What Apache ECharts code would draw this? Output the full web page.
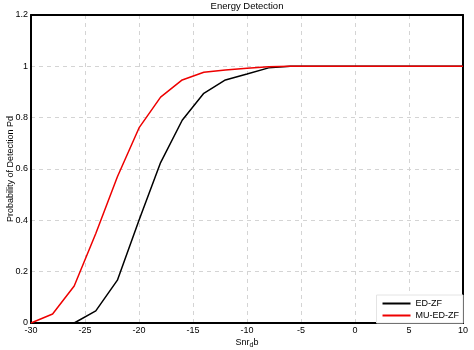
<!DOCTYPE html>
<html><head><meta charset="utf-8">
<script src="https://cdn.jsdelivr.net/npm/echarts@6/dist/echarts.min.js"></script>
<style>html,body{margin:0;padding:0;background:#fff}#c{width:474px;height:350px}</style>
</head><body><div id="c"></div>
<script>
const snr = [-30,-28,-26,-24,-22,-20,-18,-16,-14,-12,-10,-8,-6,-4,-2,0,2,4,6,8,10];
const edzf = [0,0,0,0.047,0.167,0.40,0.625,0.79,0.895,0.947,0.970,0.994,1,1,1,1,1,1,1,1,1];
const muedzf = [0,0.035,0.144,0.349,0.57,0.76,0.88,0.947,0.977,0.986,0.993,0.998,1,1,1,1,1,1,1,1,1];
const seriesNames = ['ED-ZF','MU-ED-ZF'];
const font = 'Liberation Sans, Arial, sans-serif';
const frameAxis = {axisLine:{onZero:false,lineStyle:{color:'#000',width:2}},axisTick:{show:false},axisLabel:{show:false},splitLine:{show:false}};
const chart = echarts.init(document.getElementById('c'));
chart.setOption({
  animation:false,
  backgroundColor:'#fff',
  title:{text:'Energy Detection',left:247,top:1,padding:0,textAlign:'center',textStyle:{fontFamily:font,fontSize:9.5,fontWeight:'normal',color:'#000'}},
  grid:{left:31,right:11,top:15,bottom:27,containLabel:false,outerBoundsMode:'none'},
  xAxis:[{type:'value',min:-30,max:10,interval:5,
    name:'{a|Snr}{s|d}{a|b}',nameLocation:'middle',nameGap:13,nameMoveOverlap:false,
    nameTextStyle:{rich:{a:{fontFamily:font,fontSize:9,color:'#000'},s:{fontFamily:font,fontSize:7,color:'#000',verticalAlign:'bottom',padding:[6,0,0,0]}}},
    axisLine:{onZero:false,lineStyle:{color:'#000',width:2}},axisTick:{show:false},
    axisLabel:{fontFamily:font,fontSize:9,color:'#000',margin:3},
    splitLine:{show:true,lineStyle:{color:'#d4d4d4',type:[4,4],width:1}}},
    Object.assign({type:'value',min:-30,max:10,position:'top'},frameAxis)],
  yAxis:[{type:'value',min:0,max:1.2,interval:0.2,
    name:'Probability of Detection Pd',nameLocation:'middle',nameGap:16,nameMoveOverlap:false,
    nameTextStyle:{fontFamily:font,fontSize:9,color:'#000'},
    axisLine:{onZero:false,lineStyle:{color:'#000',width:2}},axisTick:{show:false},
    axisLabel:{fontFamily:font,fontSize:9,color:'#000',margin:3,formatter:v=>String(Math.round(v*10)/10)},
    splitLine:{show:true,lineStyle:{color:'#d4d4d4',type:[4,4],width:1}}},
    Object.assign({type:'value',min:0,max:1.2,position:'right'},frameAxis)],
  legend:{orient:'vertical',right:11,bottom:27,itemWidth:28,itemHeight:2,icon:'rect',itemGap:3,
    backgroundColor:'#fff',borderColor:'#e4e4e4',borderWidth:1,padding:[4,4,3,6],
    textStyle:{fontFamily:font,fontSize:9,color:'#000'},data:seriesNames},
  series:[
    {name:seriesNames[0],type:'line',data:snr.map((x,i)=>[x,edzf[i]]),symbol:'none',lineStyle:{color:'#000',width:1.5},itemStyle:{color:'#000'},z:3},
    {name:seriesNames[1],type:'line',data:snr.map((x,i)=>[x,muedzf[i]]),symbol:'none',lineStyle:{color:'#e00',width:1.5},itemStyle:{color:'#e00'},z:4}
  ]
});
</script></body></html>
